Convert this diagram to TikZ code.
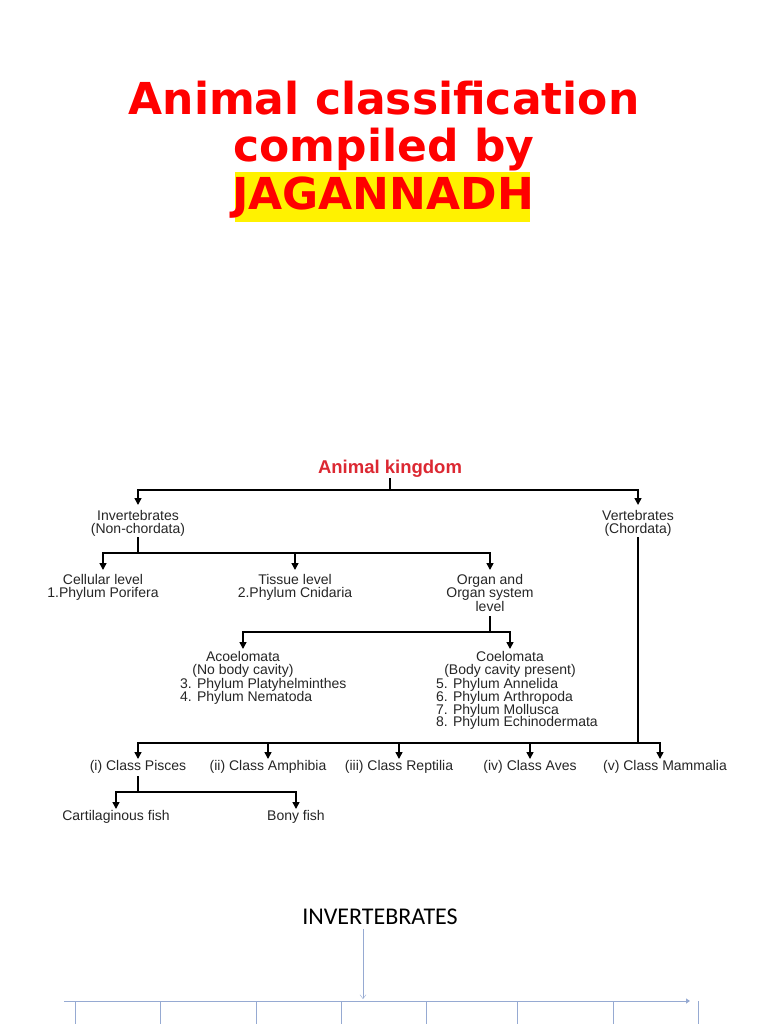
\documentclass[tikz,border=0pt]{standalone}
\usepackage{fontspec}
\setmainfont{Liberation Sans}
\newfontfamily\titlefont{DejaVu Sans}
\newfontfamily\calib{Carlito}
\usetikzlibrary{arrows.meta}
\definecolor{tred}{RGB}{255,0,0}
\definecolor{kred}{RGB}{220,40,50}
\definecolor{lblue}{RGB}{150,170,210}
\begin{document}
\begin{tikzpicture}[x=1pt,y=-1pt,
  lbl/.style={font=\fontsize{14}{13}\selectfont, align=center, inner sep=0pt, text=black!85},
  itm/.style={font=\fontsize{14}{13}\selectfont, anchor=west, inner sep=0pt, text=black!85},
  tl/.style={font=\titlefont\bfseries\fontsize{44}{50}\selectfont, text=tred, inner sep=0pt},
  arr/.style={line width=1.5pt, -{Triangle[width=7pt,length=7pt]}},
  ln/.style={line width=1.5pt}]
\useasboundingbox (0,0) rectangle (768,1024);
\fill[white] (0,0) rectangle (768,1024);
\node[tl] (t1) at (384,98) {Animal classification};
\node[tl] (t2) at (384,150) {compiled by};
\fill[yellow] (235,172) rectangle (530,222);
\node[tl] (t3) at (383,198) {JAGANNADH};
% tree
\node[font=\bfseries\fontsize{18.5}{20}\selectfont, text=kred, inner sep=0pt] (ak) at (390,469) {Animal kingdom};
\node[lbl] (inv) at (138,523) {Invertebrates\\(Non-chordata)};
\node[lbl] (ver) at (638,523) {Vertebrates\\(Chordata)};
\coordinate (j1) at (390,490);
\draw[ln] (390,478) -- (j1);
\draw[arr] (j1) -| (138,505);
\draw[arr] (j1) -| (638,505);
\node[lbl] (cel) at (103,587) {Cellular level\\1.Phylum Porifera};
\node[lbl] (tis) at (295,587) {Tissue level\\2.Phylum Cnidaria};
\node[lbl, anchor=north] (org) at (490,574) {Organ and\\Organ system\\level};
\coordinate (j2) at (138,553);
\draw[ln] (138,537) -- (j2);
\draw[arr] (j2) -| (103,570);
\draw[arr] (j2) -| (295,570);
\draw[arr] (j2) -| (490,570);
\coordinate (j3) at (490,632);
\draw[ln] (490,616) -- (j3);
\node[lbl] (aco) at (243,664) {Acoelomata\\(No body cavity)};
\node[itm] (a3) at (180,685) {3. Phylum Platyhelminthes};
\node[itm] (a4) at (180,698) {4. Phylum Nematoda};
\node[lbl] (coe) at (510,664) {Coelomata\\(Body cavity present)};
\node[itm] (p5) at (436,685) {5. Phylum Annelida};
\node[itm] (p6) at (436,698) {6. Phylum Arthropoda};
\node[itm] (p7) at (436,711) {7. Phylum Mollusca};
\node[itm] (p8) at (436,723) {8. Phylum Echinodermata};
\draw[arr] (j3) -| (243,649);
\draw[arr] (j3) -| (510,649);
\coordinate (j4) at (638,743);
\draw[ln] (638,537) -- (j4);
\node[lbl] (c1) at (138,767) {(i) Class Pisces};
\node[lbl] (c2) at (268,767) {(ii) Class Amphibia};
\node[lbl] (c3) at (399,767) {(iii) Class Reptilia};
\node[lbl] (c4) at (530,767) {(iv) Class Aves};
\node[lbl] (c5) at (665,767) {(v) Class Mammalia};
\draw[arr] (j4) -| (138,759);
\draw[arr] (j4) -| (268,759);
\draw[arr] (j4) -| (399,759);
\draw[arr] (j4) -| (530,759);
\draw[arr] (j4) -| (660,759);
\coordinate (j5) at (138,792);
\draw[ln] (138,776) -- (j5);
\node[lbl] (f1) at (116,817) {Cartilaginous fish};
\node[lbl] (f2) at (296,817) {Bony fish};
\draw[arr] (j5) -| (116,809);
\draw[arr] (j5) -| (296,809);
% bottom
\node[font=\calib\fontsize{24}{26}\selectfont, inner sep=0pt] (iv) at (380,917) {INVERTEBRATES};
\coordinate (h1) at (363,999);
\draw[lblue, -{Straight Barb[length=4pt,width=6pt]}] (363,929) -- (h1);
\coordinate (hl) at (64,1001);
\coordinate (hr) at (690,1001);
\draw[lblue, line width=1pt, -{Triangle[length=4pt,width=5pt]}] (hl) -- (hr);
\foreach \x in {75,160,256,341,426,517,613,698}
  \draw[lblue] (\x,1001) -- (\x,1024);
\end{tikzpicture}
\end{document}
